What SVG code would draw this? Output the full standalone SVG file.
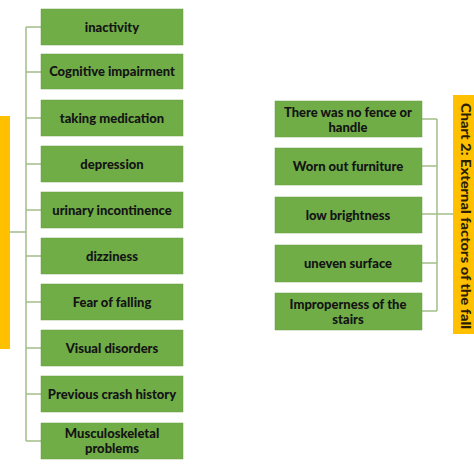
<svg xmlns="http://www.w3.org/2000/svg" width="474" height="474" viewBox="0 0 474 474">
<style>
.box{fill:#70ad47;stroke:#6a9f45;stroke-width:0.5}
.t{font-family:Lato,"Liberation Sans",sans-serif;font-weight:900;font-size:13px;fill:#141414;text-anchor:middle}
.ln{stroke:#a3bf8a;stroke-width:1.5;fill:none}
.yel{fill:#ffc000}
</style>
<rect width="474" height="474" fill="#ffffff"/>
<g id="left-root"><rect class="yel" x="0" y="116" width="10" height="233"/></g>
<g id="right-root"><rect class="yel" x="453" y="95" width="21" height="239"/>
<text transform="translate(461,103) rotate(90)" font-family="Lato,'Liberation Sans',sans-serif" font-weight="900" font-size="14" fill="#2a1f00" textLength="226" lengthAdjust="spacingAndGlyphs">Chart 2: External factors of the fall</text></g>
<g id="connectors">
<path class="ln" d="M10 232H26M26 27V441M26 27H41M26 72H41M26 118H41M26 164H41M26 210H41M26 256H41M26 302H41M26 348H41M26 394H41M26 441H41"/>
<path class="ln" d="M453 214H437M437 119V311M422 119H437M422 166H437M422 214H437M422 263H437M422 311H437"/>
</g>
<g id="n1"><rect class="box" x="41" y="9" width="142" height="36"/><text class="t" x="112" y="31.5">inactivity</text></g>
<g id="n2"><rect class="box" x="41" y="54" width="142" height="35"/><text class="t" x="112" y="76">Cognitive impairment</text></g>
<g id="n3"><rect class="box" x="41" y="100" width="142" height="36"/><text class="t" x="112" y="122.5">taking medication</text></g>
<g id="n4"><rect class="box" x="41" y="146" width="142" height="36"/><text class="t" x="112" y="168.5">depression</text></g>
<g id="n5"><rect class="box" x="41" y="192" width="142" height="36"/><text class="t" x="112" y="214.5">urinary incontinence</text></g>
<g id="n6"><rect class="box" x="41" y="238" width="142" height="36"/><text class="t" x="112" y="260.5">dizziness</text></g>
<g id="n7"><rect class="box" x="41" y="284" width="142" height="36"/><text class="t" x="112" y="306.5">Fear of falling</text></g>
<g id="n8"><rect class="box" x="41" y="330" width="142" height="36"/><text class="t" x="112" y="352.5">Visual disorders</text></g>
<g id="n9"><rect class="box" x="41" y="376" width="142" height="36"/><text class="t" x="112" y="398.5">Previous crash history</text></g>
<g id="n10"><rect class="box" x="41" y="423" width="142" height="36"/><text class="t" x="112" y="437.5">Musculoskeletal</text><text class="t" x="112" y="452.5">problems</text></g>
<g id="r1"><rect class="box" x="275" y="101" width="147" height="36"/><text class="t" x="348" y="116.5">There was no fence or</text><text class="t" x="348" y="131.5">handle</text></g>
<g id="r2"><rect class="box" x="275" y="148" width="147" height="37"/><text class="t" x="348" y="171">Worn out furniture</text></g>
<g id="r3"><rect class="box" x="275" y="197" width="147" height="36"/><text class="t" x="348" y="219.5">low brightness</text></g>
<g id="r4"><rect class="box" x="275" y="245" width="147" height="37"/><text class="t" x="348" y="268">uneven surface</text></g>
<g id="r5"><rect class="box" x="275" y="293" width="147" height="37"/><text class="t" x="348" y="308.5">Improperness of the</text><text class="t" x="348" y="323.5">stairs</text></g>
</svg>
